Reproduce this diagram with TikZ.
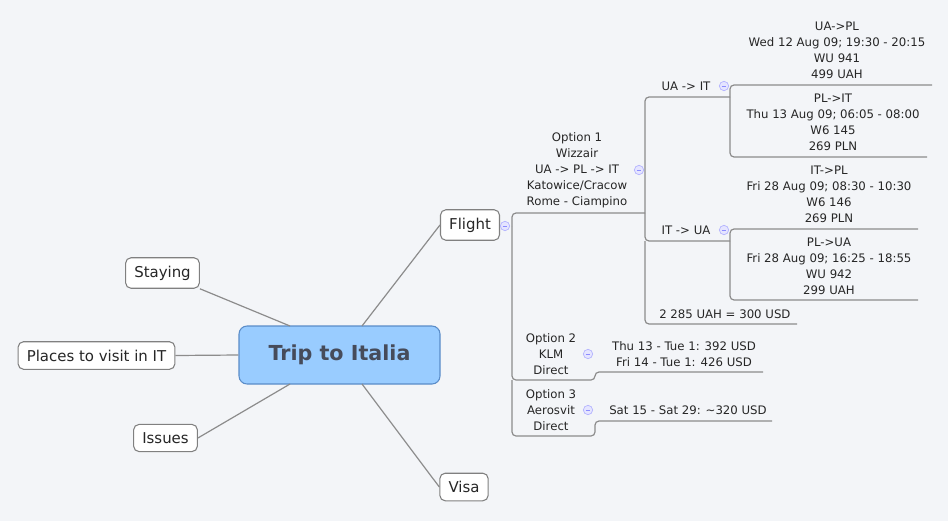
\documentclass[tikz,border=0pt]{standalone}
\usepackage{fontspec}
\setmainfont{DejaVu Sans}
\begin{document}
\begin{tikzpicture}[x=0.75pt,y=-0.75pt,
  every node/.style={font=\fontsize{8.8}{12}\selectfont, text=black!85, inner sep=0pt, align=center},
  topic/.style={draw=black!50, fill=white, rounded corners=4pt, line width=0.8pt, inner xsep=6.5pt, inner ysep=6pt, font=\fontsize{11.2}{13}\selectfont},
  link/.style={draw=black!45, line width=0.9pt},
  tree/.style={draw=black!45, line width=0.9pt, rounded corners=3pt},
  knob/.style={circle, draw=blue!30, fill=blue!10, minimum size=7pt, line width=0.5pt}]
\fill[fill={rgb,255:red,243;green,245;blue,248}] (0,0) rectangle (948,521);
\node[draw={rgb,255:red,90;green,140;blue,200}, fill={rgb,255:red,153;green,204;blue,255}, rounded corners=6pt, line width=0.8pt, minimum width=201*0.75pt, minimum height=58*0.75pt, font=\fontsize{15.5}{18}\selectfont\bfseries, text={rgb,255:red,70;green,75;blue,90}] (c) at (339.5,355) {Trip to Italia};
\node[topic] (flight) at (470,225) {Flight};
\node[topic] (stay) at (162.5,273) {Staying};
\node[topic] (places) at (96.5,355.5) {Places to visit in IT};
\node[topic] (issues) at (165.5,438) {Issues};
\node[topic] (visa) at (464,487) {Visa};
\draw[link] (290,326) -- (stay.south east);
\draw[link] (c.west) -- (places.east);
\draw[link] (290,384) -- (issues.east);
\draw[link] (362,326) -- (flight.west);
\draw[link] (362,384) -- (visa.west);
% Flight subtree
\node (o1) at (577,170) {Option 1\\Wizzair\\UA -> PL -> IT\\Katowice/Cracow\\Rome - Ciampino};
\node (o2) at (551,354) {Option 2\\KLM\\Direct};
\node (o3) at (551,410) {Option 3\\Aerosvit\\Direct};
\node (o2t) at (684,354) {Thu 13 - Tue 1: 392 USD\\Fri 14 - Tue 1: 426 USD};
\node (o3t) at (688,410) {Sat 15 - Sat 29: \textasciitilde 320 USD};
\node (uait) at (686,86) {UA -> IT};
\node (ituait) at (686,230) {IT -> UA};
\node[anchor=west] (sum) at (659,314) {2 285 UAH = 300 USD};
\node (f1) at (837,50) {UA->PL\\Wed 12 Aug 09; 19:30 - 20:15\\WU 941\\499 UAH};
\node (f2) at (833,122) {PL->IT\\Thu 13 Aug 09; 06:05 - 08:00\\W6 145\\269 PLN};
\node (f3) at (829,194) {IT->PL\\Fri 28 Aug 09; 08:30 - 10:30\\W6 146\\269 PLN};
\node (f4) at (829,266) {PL->UA\\Fri 28 Aug 09; 16:25 - 18:55\\WU 942\\299 UAH};
% tree lines
\draw[tree] (512,226) -- (512,213) -- (645,213);
\draw[tree] (512,226) -- (512,380) -- (595,380) -- (595,372) -- (763,372);
\draw[tree] (512,380) -- (512,436) -- (595,436) -- (595,421) -- (772,421);
\draw[tree] (645,213) -- (645,97) -- (730,97);
\draw[tree] (645,213) -- (645,241) -- (730,241);
\draw[tree] (645,241) -- (645,324) -- (797,324);
\draw[tree] (730,97) -- (730,85) -- (932,85);
\draw[tree] (730,97) -- (730,157) -- (927,157);
\draw[tree] (730,241) -- (730,229) -- (918,229);
\draw[tree] (730,241) -- (730,300) -- (918,300);
\foreach \p/\n in {{(505,226)}/k1,{(639,170)}/k2,{(724,86)}/k3,{(724,230)}/k4,{(588,354)}/k5,{(588,410)}/k6}{
  \node[knob] (\n) at \p {};
  \draw[blue!45, line width=0.6pt] ([xshift=-1.8pt]\n.center) -- ([xshift=1.8pt]\n.center);
}
\end{tikzpicture}
\end{document}
